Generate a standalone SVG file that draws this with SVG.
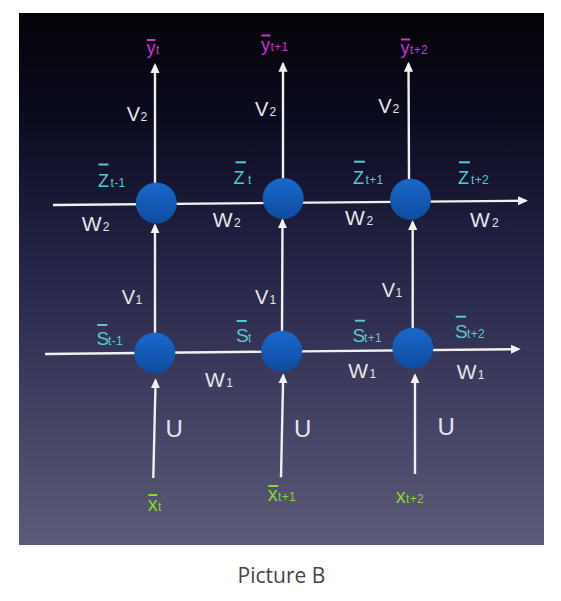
<svg xmlns="http://www.w3.org/2000/svg" width="561" height="601" viewBox="0 0 561 601">
  <defs>
    <linearGradient id="bg" x1="0" y1="0" x2="0" y2="1">
      <stop offset="0" stop-color="#030308"/>
      <stop offset="0.2" stop-color="#0b0b20"/>
      <stop offset="0.45" stop-color="#222244"/>
      <stop offset="0.7" stop-color="#3d3c5e"/>
      <stop offset="1" stop-color="#5c5b79"/>
    </linearGradient>
    <linearGradient id="node" x1="0" y1="0" x2="0" y2="1">
      <stop offset="0" stop-color="#1a68cc"/>
      <stop offset="1" stop-color="#0e4c9e"/>
    </linearGradient>
    <marker id="arr" markerUnits="userSpaceOnUse" markerWidth="10" markerHeight="10" viewBox="0 0 10 10" refX="8" refY="5" orient="auto">
      <path d="M0,0.4 L10,5 L0,9.6 z" fill="#f2f2f2"/>
    </marker>
    <style>
      .ln { stroke: #f0f0f0; stroke-width: 2.4; fill: none; }
      .ar { marker-end: url(#arr); }
      .nd { fill: url(#node); }
      text { font-family: "Liberation Sans", Arial, sans-serif; }
      .w { fill: #e6e6ea; font-size: 20px; }
      .wW { fill: #e6e6ea; font-size: 21px; }
      .u { fill: #e6e6ea; font-size: 24px; }
      .ws { font-size: 12px; }
      .cy { fill: #55c8d0; }
      .mg { fill: #d430d4; }
      .gr { fill: #82d632; }
      .m { font-size: 19px; }
      .my { font-size: 18px; }
      .mx { font-size: 20px; }
      .z { font-size: 18px; }
      .s { font-size: 12px; letter-spacing: 0.3px; }
      .bc { stroke: #55c8d0; stroke-width: 2; }
      .bm { stroke: #d430d4; stroke-width: 2; }
      .bg2 { stroke: #7ee02a; stroke-width: 2; }
      .cap { font-family: "Open Sans", "Liberation Sans", sans-serif; font-size: 21px; fill: #454545; }
    </style>
  </defs>

  <rect x="19" y="13" width="525" height="532" fill="url(#bg)"/>

  <g id="connectors">
    <path class="ln ar" d="M53,205 L526,200.7"/>
    <path class="ln ar" d="M45,354 L518.7,349.1"/>
    <path class="ln ar" d="M155,183 L155,65"/>
    <path class="ln ar" d="M283,178 L283,63.7"/>
    <path class="ln ar" d="M409,179 L408.5,63.7"/>
    <path class="ln ar" d="M155,333 L155,225.3"/>
    <path class="ln ar" d="M282,331 L282.5,220.3"/>
    <path class="ln ar" d="M412.7,328 L412.7,222"/>
    <path class="ln ar" d="M153.3,478 L155.6,380.3"/>
    <path class="ln ar" d="M281,477.3 L283.2,375.3"/>
    <path class="ln ar" d="M415,474 L415,375.3"/>
  </g>

  <g id="node-z1"><circle class="nd" cx="156.3" cy="203" r="20.5"/></g>
  <g id="node-z2"><circle class="nd" cx="283.2" cy="198.5" r="20.5"/></g>
  <g id="node-z3"><circle class="nd" cx="410.5" cy="199.3" r="20.5"/></g>
  <g id="node-s1"><circle class="nd" cx="154.8" cy="353" r="20.5"/></g>
  <g id="node-s2"><circle class="nd" cx="281.7" cy="351.3" r="20.5"/></g>
  <g id="node-s3"><circle class="nd" cx="412.8" cy="348.2" r="20.5"/></g>

  <g id="labels">
    <line class="bm" x1="147" y1="40" x2="155.5" y2="40"/>
    <text class="mg my" x="146.5" y="54">y<tspan class="s" x="156">t</tspan></text>
    <line class="bm" x1="261.5" y1="35.5" x2="270.5" y2="35.5"/>
    <text class="mg my" x="261" y="51">y<tspan class="s" x="270.5">t+1</tspan></text>
    <line class="bm" x1="401" y1="39.5" x2="410" y2="39.5"/>
    <text class="mg my" x="400.5" y="54">y<tspan class="s" x="410">t+2</tspan></text>

    <text class="w" x="126.7" y="120.5">V<tspan class="ws" x="140.5">2</tspan></text>
    <text class="w" x="255" y="116">V<tspan class="ws" x="269.5">2</tspan></text>
    <text class="w" x="378.3" y="113.3">V<tspan class="ws" x="392.5">2</tspan></text>

    <line class="bc" x1="98.5" y1="164.5" x2="108.5" y2="164.5"/>
    <text class="cy z" x="98" y="187">Z<tspan class="s" x="110.5">t-1</tspan></text>
    <line class="bc" x1="235.5" y1="162.3" x2="246" y2="162.3"/>
    <text class="cy z" x="233.5" y="183.5">Z<tspan class="s" x="248">t</tspan></text>
    <line class="bc" x1="354" y1="161.7" x2="365" y2="161.7"/>
    <text class="cy z" x="353" y="183.5">Z<tspan class="s" x="365.5">t+1</tspan></text>
    <line class="bc" x1="459" y1="162.3" x2="470" y2="162.3"/>
    <text class="cy z" x="458" y="183.5">Z<tspan class="s" x="471">t+2</tspan></text>

    <text class="wW" x="81.7" y="231">W<tspan class="ws" x="102.8">2</tspan></text>
    <text class="wW" x="212.7" y="226.7">W<tspan class="ws" x="234">2</tspan></text>
    <text class="wW" x="345" y="225">W<tspan class="ws" x="366.5">2</tspan></text>
    <text class="wW" x="470" y="226.7">W<tspan class="ws" x="492">2</tspan></text>

    <text class="w" x="121.7" y="304.3">V<tspan class="ws" x="135.5">1</tspan></text>
    <text class="w" x="255" y="304.3">V<tspan class="ws" x="269.5">1</tspan></text>
    <text class="w" x="381.7" y="297.3">V<tspan class="ws" x="395.5">1</tspan></text>

    <line class="bc" x1="97.3" y1="325" x2="107.3" y2="325"/>
    <text class="cy m" x="96.5" y="344.5">S<tspan class="s" x="108">t-1</tspan></text>
    <line class="bc" x1="236.7" y1="321" x2="246.7" y2="321"/>
    <text class="cy m" x="236" y="341.5">S<tspan class="s" x="248">t</tspan></text>
    <line class="bc" x1="355" y1="320.7" x2="365" y2="320.7"/>
    <text class="cy m" x="352.5" y="341.5">S<tspan class="s" x="364">t+1</tspan></text>
    <line class="bc" x1="455.7" y1="316.7" x2="466" y2="316.7"/>
    <text class="cy m" x="455" y="337.5">S<tspan class="s" x="467">t+2</tspan></text>

    <text class="wW" x="205" y="386.7">W<tspan class="ws" x="226.2">1</tspan></text>
    <text class="wW" x="348.3" y="378.3">W<tspan class="ws" x="369.5">1</tspan></text>
    <text class="wW" x="456.7" y="379.3">W<tspan class="ws" x="477.8">1</tspan></text>

    <text class="u" x="165.5" y="437.3">U</text>
    <text class="u" x="294" y="437.3">U</text>
    <text class="u" x="437.5" y="435">U</text>

    <line class="bg2" x1="148.3" y1="495" x2="157.3" y2="495"/>
    <text class="gr mx" x="147.8" y="510.5">x<tspan class="s" x="158">t</tspan></text>
    <line class="bg2" x1="268.3" y1="486" x2="278.3" y2="486"/>
    <text class="gr mx" x="267.8" y="500.5">x<tspan class="s" x="278">t+1</tspan></text>
    <text class="gr mx" x="395.8" y="502.5">x<tspan class="s" x="406">t+2</tspan></text>
  </g>

  <text class="cap" x="281.5" y="582.5" text-anchor="middle">Picture B</text>
</svg>
